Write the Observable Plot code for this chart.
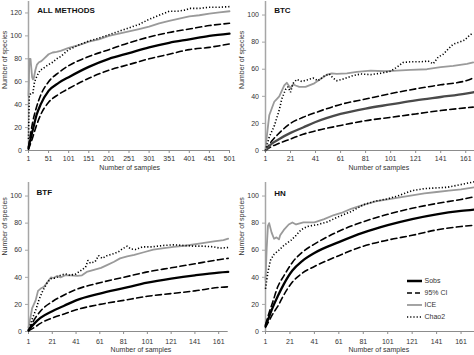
<!DOCTYPE html>
<html>
<head>
<meta charset="utf-8">
<script src="https://cdn.jsdelivr.net/npm/d3@7"></script>
<script src="https://cdn.jsdelivr.net/npm/@observablehq/plot@0.6"></script>
<style>
  html, body { margin: 0; padding: 0; background: #fff; }
  #chart { position: relative; width: 474px; height: 355px; overflow: hidden; background: #fff; }
  #chart svg { position: absolute; }
</style>
</head>
<body>
<div id="chart"></div>
<script>
// ---------- text ----------
const panelTitles = ["ALL METHODS", "BTC", "BTF", "HN"];
const xTitle = "Number of samples";
const yTitle = "Number of species";
const legendNames = ["Sobs", "95% CI", "ICE", "Chao2"];

// ---------- ticks ----------
const xTicksAll = [1, 51, 101, 151, 201, 251, 301, 351, 401, 451, 501];
const xTicksSite = [1, 21, 41, 61, 81, 101, 121, 141, 161];
const yTicksAll = [0, 20, 40, 60, 80, 100, 120];
const yTicksSite = [0, 20, 40, 60, 80, 100];

// ---------- ALL METHODS ----------
const allX = [1, 6, 11, 21, 31, 51, 76, 101, 151, 201, 251, 301, 351, 401, 451, 501];
const allSobs = [2, 10, 17, 31, 40, 52, 59, 64, 73, 80, 85, 90, 94, 97, 100, 102];
const allUpper = [3, 14, 24, 38, 48, 60, 68, 74, 82, 88, 94, 99, 103, 106, 109, 111];
const allLower = [1, 6, 11, 22, 31, 42, 49, 54, 63, 70, 75, 80, 84, 88, 90, 93];
const allIceX = [1, 2, 3, 4, 6, 8, 10, 12, 14, 18, 22, 27, 33, 39, 51, 61, 71, 81, 101, 126, 151, 176, 201, 226, 251, 276, 301, 326, 351, 376, 401, 426, 451, 476, 501];
const allIce = [48, 60, 80, 80, 80, 72, 64, 62, 63, 70, 75, 77, 78, 80, 84, 85.5, 86, 87, 89.5, 92, 95, 97, 100, 102, 104, 106, 108, 111, 113, 115, 117, 118, 119.5, 120.5, 121.5];
const allChaoX = [1, 2, 3, 5, 8, 12, 16, 22, 30, 43, 51, 61, 71, 81, 101, 126, 151, 176, 201, 226, 251, 276, 301, 326, 351, 371, 391, 401, 426, 451, 476, 501];
const allChao = [10, 30, 48, 49, 50, 50, 60, 65, 70, 73, 75, 77, 80, 82, 88, 92, 95.5, 98, 101, 104, 107, 110, 114.5, 118, 121.5, 121.5, 122.5, 124, 124, 125, 125, 125.5];

// ---------- BTC ----------
const btcX = [1, 6, 11, 21, 31, 41, 61, 81, 101, 121, 141, 161, 167];
const btcSobs = [0, 5, 8, 13, 17, 21, 27, 31, 34, 37, 39.5, 42, 43];
const btcUpper = [0, 7, 12, 20, 24.5, 28, 34, 38, 42, 45.5, 48.5, 51.5, 53.5];
const btcLower = [0, 3, 5, 8.5, 12, 14.5, 18.5, 22, 24.5, 27, 29.5, 31.5, 32];
const btcIceX = [1, 2, 4, 6, 8, 10, 12, 14, 16, 18, 21, 23, 25, 28, 33, 40, 45, 50, 54, 58, 66, 74, 85, 96, 106, 117, 130, 141, 151, 162, 167];
const btcIce = [0, 10, 26, 31, 36, 38, 40, 44, 48, 50, 46, 49, 48, 47, 47, 49.6, 52.8, 56, 57, 56.5, 57, 58, 59, 58.5, 59, 59.5, 60, 61.5, 62.5, 64, 65];
const btcChaoX = [1, 4, 8, 12, 14, 17, 19, 21, 23, 26, 30, 34, 39, 43, 48, 52, 55, 58, 64, 70, 77, 85, 93, 101, 106, 111, 117, 125, 131, 135, 139, 143, 147, 151, 156, 160, 164, 167];
const btcChao = [0, 10, 18, 30, 38, 45, 47, 43, 49.5, 52.5, 51, 52, 53.5, 51.5, 55, 56.5, 53.5, 51.5, 53, 55, 56.5, 56, 57, 58.5, 61.5, 65, 65.5, 65.5, 66, 64, 69, 71, 75, 78.5, 80, 81.5, 85, 87];

// ---------- BTF ----------
const btfX = [1, 6, 11, 21, 31, 41, 61, 81, 101, 121, 141, 161, 169];
const btfSobs = [1, 6, 10, 15, 19, 23, 28, 32, 36, 39, 41.5, 43.5, 44];
const btfUpper = [1, 9, 15, 22, 27, 31, 36, 40, 44, 47, 50, 53, 54];
const btfLower = [0.5, 3, 6, 10, 13, 16, 20, 23, 26, 28, 30, 32.5, 33];
const btfIceX = [1, 3, 4, 7, 9, 11, 14, 17, 20, 22, 25, 28, 32, 36, 42, 46, 50, 56, 62, 67, 73, 78, 84, 90, 98, 106, 115, 123, 134, 146, 157, 165, 169];
const btfIce = [3, 12, 17, 23, 30, 31.5, 33, 36.5, 40, 39.5, 41, 40, 41.5, 41.5, 41, 41.5, 44, 45.5, 47, 49, 51.5, 54, 55.5, 56.5, 58.5, 60.5, 61.5, 62.5, 63.5, 65, 66.5, 67.5, 68.5];
const btfChaoX = [1, 4, 7, 10, 13, 17, 20, 24, 28, 32, 36, 41, 45, 49, 51, 53, 57, 60, 63, 67, 73, 77, 80, 84, 87, 91, 97, 105, 114, 123, 132, 140, 148, 157, 162, 169];
const btfChao = [0, 9, 15.5, 24, 30, 36.5, 39, 39.5, 41.5, 42.5, 41.5, 42.5, 45, 47.5, 52.5, 50.5, 51.5, 56, 54, 56, 57.5, 59, 61, 63, 61, 60.5, 62.5, 62.5, 63.5, 64, 63.5, 63, 63, 62.5, 61.5, 62];

// ---------- HN ----------
const hnX = [1, 4, 7, 11, 16, 23, 31, 41, 61, 81, 101, 121, 141, 161, 172];
const hnSobs = [4, 11, 18, 26, 35, 45, 52, 58, 66, 73, 78.5, 83, 86.5, 89, 90];
const hnUpper = [5, 14, 22, 33, 41, 51, 58.5, 64.5, 74, 81, 86.5, 91, 94.5, 97.5, 99.5];
const hnLower = [3, 8, 13, 18.5, 27, 36.5, 43, 48, 56, 63, 67.5, 71, 75, 77.5, 78.5];
const hnIceX = [1, 2, 3, 4, 6, 8, 10, 12, 13, 16, 20, 23, 26, 32, 41, 49, 57, 63, 71, 81, 91, 101, 111, 121, 131, 141, 151, 161, 172];
const hnIce = [38, 62, 78, 80, 73, 68.5, 69.5, 68, 71, 75, 79, 80.5, 79, 80.5, 80.5, 83, 86, 87.5, 90.5, 93.5, 96, 97.5, 99, 100.5, 102, 103, 104, 105, 106.5];
const hnChaoX = [1, 3, 5, 8, 12, 16, 22, 26, 30, 35, 44, 52, 60, 71, 81, 90, 101, 109, 121, 131, 141, 150, 161, 169, 172];
const hnChao = [31.5, 44, 52.5, 57, 60, 63.5, 67.5, 71, 75, 77.5, 79, 81, 84.5, 88.5, 93.5, 96, 98, 100, 104, 105.5, 106, 106.5, 108.5, 110, 110.5];

// ---------- drawing ----------
const FONT = "'Liberation Sans', Arial, Helvetica, sans-serif";
const pts = (xs, ys) => xs.map((x, i) => ({x, y: ys[i]}));
const DOTS = "1.2,2";

function panel(o) {
  const smooth = {x: "x", y: "y", curve: "monotone-x"};
  return Plot.plot({
    width: o.width, height: o.height,
    marginLeft: 28, marginRight: o.mr, marginTop: o.mt, marginBottom: o.mb,
    style: {fontFamily: FONT, fontSize: "7px", background: "transparent", overflow: "visible", color: "#333"},
    x: {domain: o.xDomain},
    y: {domain: o.yDomain},
    marks: [
      Plot.ruleY([o.yDomain[0]], {stroke: "#8c8c8c", strokeWidth: 1}),
      Plot.ruleX([o.xDomain[0]], {stroke: "#a6a6a6", strokeWidth: 1.5}),
      Plot.axisX({ticks: o.xTicks, tickSize: 3, tickPadding: o.tickPad, stroke: "#8c8c8c", fill: "#333", label: null, tickFormat: d => String(d)}),
      Plot.axisY({ticks: o.yTicks, tickSize: 3, tickPadding: 3.5, stroke: "#a6a6a6", fill: "#333", label: null, tickFormat: d => String(d)}),
      Plot.line(pts(o.xs, o.upper), {...smooth, stroke: "#000", strokeWidth: 1.6, strokeDasharray: "6,3.5"}),
      Plot.line(pts(o.xs, o.lower), {...smooth, stroke: "#000", strokeWidth: 1.6, strokeDasharray: "6,3.5"}),
      Plot.line(pts(o.xs, o.sobs), {...smooth, stroke: o.sobsColor, strokeWidth: 2.3}),
      Plot.line(pts(o.iceX, o.ice), {x: "x", y: "y", stroke: "#9a9a9a", strokeWidth: 1.8}),
      Plot.line(pts(o.chaoX, o.chao), {x: "x", y: "y", stroke: "#000", strokeWidth: 1.6, strokeDasharray: DOTS, strokeLinecap: "butt", strokeLinejoin: "miter"}),
      Plot.text([o.title], {text: d => d, frameAnchor: "top-left", dx: o.titleDx, dy: o.titleDy, textAnchor: "start", lineAnchor: "middle", fontWeight: "bold", fontSize: 8, fill: "#111"}),
      Plot.text([xTitle], {text: d => d, frameAnchor: "bottom", dx: o.xTitleDx, dy: o.xTitleDy, lineAnchor: "middle", fontSize: 7, fill: "#333"}),
      Plot.text([yTitle], {text: d => d, frameAnchor: "left", rotate: -90, dx: -23.5, dy: o.yTitleDy, lineAnchor: "middle", fontSize: 7, fill: "#333"})
    ]
  });
}

const chart = document.getElementById("chart");
function place(node, left, top) {
  node.style.left = left + "px";
  node.style.top = top + "px";
  chart.appendChild(node);
}

place(panel({
  title: panelTitles[0], width: 237, height: 175, mr: 8, mt: 1, mb: 25,
  xDomain: [1, 501], yDomain: [0, 130], xTicks: xTicksAll, yTicks: yTicksAll, tickPad: 2.8,
  xs: allX, sobs: allSobs, upper: allUpper, lower: allLower,
  iceX: allIceX, ice: allIce, chaoX: allChaoX, chao: allChao, sobsColor: "#000",
  titleDx: 8.7, titleDy: 9, xTitleDx: 0.7, xTitleDy: 17.7, yTitleDy: 13
}), 0, 0);

place(panel({
  title: panelTitles[1], width: 237, height: 175, mr: 0, mt: 1, mb: 25,
  xDomain: [1, 168], yDomain: [0, 110], xTicks: xTicksSite, yTicks: yTicksSite, tickPad: 2.8,
  xs: btcX, sobs: btcSobs, upper: btcUpper, lower: btcLower,
  iceX: btcIceX, ice: btcIce, chaoX: btcChaoX, chao: btcChao, sobsColor: "#4a4a4a",
  titleDx: 8.7, titleDy: 9, xTitleDx: 8.8, xTitleDy: 17.7, yTitleDy: 13
}), 237, 0);

place(panel({
  title: panelTitles[2], width: 237, height: 180, mr: 9.3, mt: 7, mb: 24,
  xDomain: [1, 169], yDomain: [0, 110], xTicks: xTicksSite, yTicks: yTicksSite, tickPad: 4.2,
  xs: btfX, sobs: btfSobs, upper: btfUpper, lower: btfLower,
  iceX: btfIceX, ice: btfIce, chaoX: btfChaoX, chao: btfChao, sobsColor: "#000",
  titleDx: 8, titleDy: 10.3, xTitleDx: 12.6, xTitleDy: 18.7, yTitleDy: -1.5
}), 0, 175);

place(panel({
  title: panelTitles[3], width: 237, height: 180, mr: 0, mt: 7, mb: 24,
  xDomain: [1, 172], yDomain: [0, 110], xTicks: xTicksSite, yTicks: yTicksSite, tickPad: 4.2,
  xs: hnX, sobs: hnSobs, upper: hnUpper, lower: hnLower,
  iceX: hnIceX, ice: hnIce, chaoX: hnChaoX, chao: hnChao, sobsColor: "#000",
  titleDx: 8.7, titleDy: 11.3, xTitleDx: 8.8, xTitleDy: 18.7, yTitleDy: -1.5
}), 237, 175);

// ---------- legend ----------
const legendStyles = [
  {stroke: "#000", strokeWidth: 2.5},
  {stroke: "#000", strokeWidth: 1.6, strokeDasharray: "5,3"},
  {stroke: "#9a9a9a", strokeWidth: 1.8},
  {stroke: "#000", strokeWidth: 1.6, strokeDasharray: DOTS}
];
const legend = Plot.plot({
  width: 62, height: 53.2,
  marginLeft: 2, marginRight: 45, marginTop: 0, marginBottom: 0,
  style: {fontFamily: FONT, fontSize: "7px", background: "transparent", overflow: "visible", color: "#333"},
  y: {type: "band", domain: legendNames, axis: null},
  marks: [
    ...legendNames.map((name, i) => Plot.ruleY([name], {y: d => d, ...legendStyles[i]})),
    Plot.text(legendNames, {y: d => d, text: d => d, frameAnchor: "right", textAnchor: "start", dx: 2, fontSize: 7, fill: "#333"})
  ]
});
place(legend, 405, 272.4);
</script>
</body>
</html>
